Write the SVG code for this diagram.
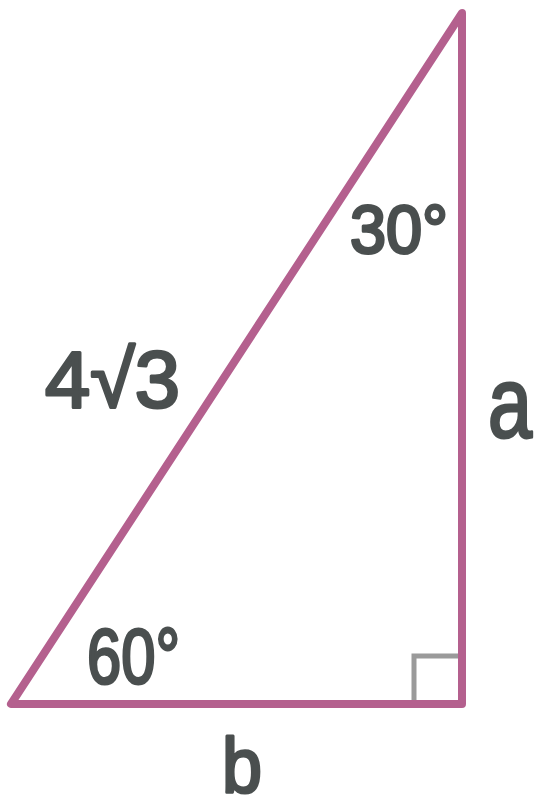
<svg xmlns="http://www.w3.org/2000/svg" width="544" height="812" viewBox="0 0 544 812">
<style>
.lbl{font-family:"Liberation Sans",Arial,sans-serif;fill:#4a4f4f;stroke:#4a4f4f;stroke-width:3;stroke-linejoin:round;}
.edge{fill:none;stroke:#b4608e;stroke-width:8;stroke-linejoin:round;stroke-linecap:round;}
.mark{fill:none;stroke:#9a9a9a;stroke-width:5;stroke-linecap:round;}
</style>
<rect width="544" height="812" fill="#ffffff"/>
<g id="connectors">
<path class="mark" d="M414 702 L414 656 L460 656"/>
<path class="edge" d="M462 13 L11 704 L462 704 Z"/>
</g>
<g id="angle-30"><text class="lbl" x="350" y="253" font-size="68" textLength="98" lengthAdjust="spacingAndGlyphs">30°</text></g>
<g id="hyp"><text class="lbl" x="45" y="407" font-size="80" textLength="135" lengthAdjust="spacingAndGlyphs">4√3</text></g>
<g id="side-a"><text class="lbl" x="488" y="437" font-size="100" textLength="44" lengthAdjust="spacingAndGlyphs">a</text></g>
<g id="angle-60"><text class="lbl" x="87" y="683" font-size="78" textLength="93" lengthAdjust="spacingAndGlyphs">60°</text></g>
<g id="side-b"><text class="lbl" x="222" y="793" font-size="78" textLength="40" lengthAdjust="spacingAndGlyphs">b</text></g>
</svg>
